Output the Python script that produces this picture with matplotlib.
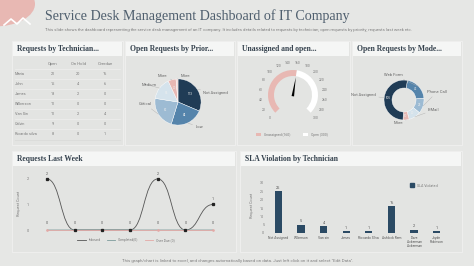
import numpy as np
import matplotlib
matplotlib.use("Agg")
import matplotlib.pyplot as plt
from matplotlib.patches import Rectangle, Circle, Wedge, Polygon, PathPatch, Patch
from matplotlib.path import Path
from matplotlib.lines import Line2D

plt.rcParams['font.family'] = ['Roboto', 'DejaVu Sans']

# ---- data ----
tech_names = ["Maria", "John", "James", "Wilkerson", "Van Sin", "Calvin", "Ricardo silva"]
tech_open = [21, 15, 13, 11, 11, 9, 8]
tech_hold = [20, 4, 2, 0, 2, 0, 0]
tech_overdue = [16, 6, 0, 0, 4, 0, 1]

prio_labels = ["Not Assigned", "Low", "Critical", "Medium", "More", "More"]
prio_values = [113, 84, 82, 56, 20, 5]

gauge_unassigned = 160
gauge_max = 300

mode_labels = ["Web Form", "Phone Call", "E-Mail", "More", "Not Assigned"]
mode_values = [42, 25, 20, 10, 105]

week_inbound = [2, 0, 0, 0, 2, 0, 1]
week_completed = [0, 0, 0, 0, 0, 0, 0]
week_overdue = [0, 0, 0, 0, 0, 0, 0]

sla_names = ["Not Assigned", "Wilkerson", "Van sin", "James", "Riccardo Silva",
             "Ashlock Ram", "Dave\nAckerman\nAckerman", "Joyde\nRobinson"]
sla_values = [25, 5, 4, 1, 1, 16, 2, 1]

# ---- colours ----
BG = "#e6e7e5"
PANEL = "#e3e4e2"
HEAD = "#f5f6f5"
NAVY = "#203c56"
MID = "#5584ab"
LIGHT = "#9dbbd3"
PALE = "#d5e3ec"
PINK = "#e8b8b3"
TXT = "#7a7a7a"
HTXT = "#34414d"

W, H = 474, 266
fig = plt.figure(figsize=(W / 100, H / 100), dpi=100, facecolor=BG)


def rect(x0, y0, x1, y1):
    return [x0 / W, 1 - y1 / H, (x1 - x0) / W, (y1 - y0) / H]


def fx(x):
    return x / W


def fy(y):
    return 1 - y / H


# decoration top-left
fig.patches.append(Circle((fx(-5), fy(4)), 40 / W, transform=fig.transFigure,
                          facecolor=PINK, edgecolor="none", zorder=-5))
zig_x = [4, 11, 17, 23, 30]
zig_y = [25, 19, 24, 18, 24]
fig.lines.append(Line2D([fx(v) for v in zig_x], [fy(v) for v in zig_y],
                        transform=fig.transFigure, color="white", lw=1.2, zorder=-4))

fig.text(fx(45), fy(16), "Service Desk Management Dashboard of IT Company",
         family="Liberation Serif", fontsize=10.1, color="#4f5f6e", va="center")
fig.text(fx(45), fy(30),
         "This slide shows the dashboard representing the service desk management of an IT company. "
         "It includes details related to requests by technician, open requests by priority, requests last week etc.",
         fontsize=3.1, color="#808080", va="center")
fig.text(fx(238), fy(261),
         "This graph/chart is linked to excel, and changes automatically based on data. "
         "Just left click on it and select \"Edit Data\".",
         fontsize=3.2, color="#808080", ha="center", va="center")


def panel(x0, y0, x1, y1, title):
    fig.patches.append(Rectangle((fx(x0), fy(y1)), (x1 - x0) / W, (y1 - y0) / H,
                                 transform=fig.transFigure, facecolor=PANEL,
                                 edgecolor="#f0f0f0", lw=0.6, zorder=-3))
    fig.patches.append(Rectangle((fx(x0 + 1), fy(y0 + 15)), (x1 - x0 - 2) / W, 14 / H,
                                 transform=fig.transFigure, facecolor=HEAD,
                                 edgecolor="none", zorder=-2))
    fig.text(fx(x0 + 5), fy(y0 + 8), title, family="Liberation Serif",
             fontweight="bold", fontsize=5.5, color=HTXT, va="center")


panel(12, 41, 123, 145, "Requests by Technician...")
panel(125, 41, 235, 145, "Open Requests by Prior...")
panel(237, 41, 350, 145, "Unassigned and open...")
panel(352, 41, 462, 145, "Open Requests by Mode...")
panel(12, 151, 236, 252, "Requests Last Week")
panel(240, 151, 462, 252, "SLA Violation by Technician")

# ---- table ----
ax = fig.add_axes(rect(12, 58, 123, 141))
ax.set_xlim(12, 123)
ax.set_ylim(7.7, -0.6)
ax.axis("off")
cols_x = [53, 78, 105]
for cx, head in zip(cols_x, ["Open", "On Hold", "Overdue"]):
    ax.text(cx, 0, head, fontsize=3, color=TXT, ha="center", va="center")
for i, name in enumerate(tech_names):
    r = i + 1
    ax.axhline(r - 0.5, xmin=0.03, xmax=0.97, color="#f2f2f2", lw=0.4)
    ax.text(15, r, name, fontsize=2.8, color=TXT, va="center")
    for cx, v in zip(cols_x, [tech_open[i], tech_hold[i], tech_overdue[i]]):
        ax.text(cx, r, str(v), fontsize=2.8, color=TXT, ha="center", va="center")
ax.axhline(7.65, xmin=0.03, xmax=0.97, color="#a8a8a8", lw=0.9)

# ---- priority pie ----
ax = fig.add_axes(rect(178 - 30, 102 - 30, 178 + 30, 102 + 30))
pie_colors = [NAVY, MID, LIGHT, PALE, PINK, "#f1d6d3"]
wedges, _, autos = ax.pie(prio_values, colors=pie_colors, startangle=90, counterclock=False,
                          radius=1, autopct=lambda p: "%d" % round(p * sum(prio_values) / 100),
                          pctdistance=0.62, wedgeprops=dict(edgecolor="white", linewidth=0.3),
                          textprops=dict(fontsize=2.2, color="#f0f0f0"))
autos[-1].set_text("")
ax.set_xlim(-1.3, 1.3)
ax.set_ylim(-1.3, 1.3)
ax.set_aspect("equal")
prio_pos = [(1.1, 0.39, "left"), (0.75, -1.1, "left"), (-1.15, -0.09, "right"),
            (-0.9, 0.72, "right"), (-0.45, 1.12, "right"), (0.1, 1.14, "left")]
for w, lab, (tx, ty, ha) in zip(wedges, prio_labels, prio_pos):
    a = np.deg2rad((w.theta1 + w.theta2) / 2)
    ax.annotate(lab, xy=(np.cos(a), np.sin(a)), xytext=(tx, ty), ha=ha, va="center",
                fontsize=3, color="#666666", annotation_clip=False,
                arrowprops=dict(arrowstyle="-", color="#b0b0b0", lw=0.3,
                                shrinkA=0, shrinkB=0))

# ---- gauge ----
ax = fig.add_axes(rect(293 - 40, 95 - 40, 293 + 40, 95 + 40))
ax.set_xlim(-1.6, 1.6)
ax.set_ylim(-1.6, 1.6)
ax.set_aspect("equal")
ax.axis("off")
span = 270.0
ang_val = 225 - gauge_unassigned / gauge_max * span
ax.add_patch(Wedge((0, 0), 1, ang_val, 225, width=0.24, facecolor=PINK, edgecolor="none"))
ax.add_patch(Wedge((0, 0), 1, -45, ang_val, width=0.24, facecolor="white", edgecolor="none"))
for v in range(0, gauge_max + 1, 20):
    a = np.deg2rad(225 - v / gauge_max * span)
    ax.text(1.3 * np.cos(a), 1.3 * np.sin(a), str(v), fontsize=2.4, color=TXT,
            ha="center", va="center")
a = np.deg2rad(ang_val)
p = np.array([np.cos(a + np.pi / 2), np.sin(a + np.pi / 2)]) * 0.05
tip = np.array([np.cos(a), np.sin(a)]) * 0.72
base = -np.array([np.cos(a), np.sin(a)]) * 0.05
ax.add_patch(Polygon([base + p, tip, base - p], closed=True, facecolor="black"))
fig.legend([Patch(facecolor=PINK), Patch(facecolor="white")],
           ["Unassigned (%d)" % gauge_unassigned, "Open (%d)" % gauge_max],
           loc="center", bbox_to_anchor=(fx(292), fy(135)), ncol=2, frameon=False,
           fontsize=2.4, handlelength=1.4, handleheight=1.0, columnspacing=4,
           labelcolor=TXT)

# ---- mode donut ----
ax = fig.add_axes(rect(404 - 30, 100 - 30, 404 + 30, 100 + 30))
mode_colors = [MID, LIGHT, PALE, PINK, NAVY]
wedges, _, autos = ax.pie(mode_values, colors=mode_colors, startangle=80, counterclock=False,
                          radius=1, autopct=lambda p: "%d" % round(p * sum(mode_values) / 100),
                          pctdistance=0.8, wedgeprops=dict(width=0.4, edgecolor="white", linewidth=0.3),
                          textprops=dict(fontsize=2.2, color="#f0f0f0"))
ax.set_xlim(-1.5, 1.5)
ax.set_ylim(-1.5, 1.5)
ax.set_aspect("equal")
mode_pos = [(-0.55, 1.27, "center"), (1.15, 0.4, "left"), (1.2, -0.5, "left"),
            (-0.3, -1.15, "center"), (-1.4, 0.25, "right")]
for w, lab, (tx, ty, ha) in zip(wedges, mode_labels, mode_pos):
    a = np.deg2rad((w.theta1 + w.theta2) / 2)
    ax.annotate(lab, xy=(np.cos(a), np.sin(a)), xytext=(tx, ty), ha=ha, va="center",
                fontsize=3, color="#666666", annotation_clip=False,
                arrowprops=dict(arrowstyle="-", color="#b0b0b0", lw=0.3,
                                shrinkA=0, shrinkB=0))

# ---- requests last week ----
ax = fig.add_axes(rect(33, 170, 227, 236))
ax.set_facecolor("none")
xs = np.arange(len(week_inbound))


def smooth(xv, yv):
    verts = [(xv[0], yv[0])]
    codes = [Path.MOVETO]
    for i in range(len(xv) - 1):
        d = (xv[i + 1] - xv[i]) / 2
        verts += [(xv[i] + d, yv[i]), (xv[i + 1] - d, yv[i + 1]), (xv[i + 1], yv[i + 1])]
        codes += [Path.CURVE4] * 3
    return Path(verts, codes)


ax.add_patch(PathPatch(smooth(xs, week_inbound), fill=False, edgecolor="#555555", lw=0.6))
ax.add_patch(PathPatch(smooth(xs, week_completed), fill=False, edgecolor="#7e9c9c", lw=0.6))
ax.plot(xs, week_overdue, color="#e3a9a6", lw=0.6, marker="o", ms=0.9)
ax.plot(xs, week_inbound, ls="none", marker="s", ms=1.4, color="#222222")
for x, v, c in zip(xs, week_inbound, week_completed):
    if v > 0:
        ax.annotate(str(v), (x, v), xytext=(0, 3), textcoords="offset points",
                    ha="center", fontsize=2.6, color="#555555")
    ax.annotate(str(c), (x, c), xytext=(0, 4.5), textcoords="offset points",
                ha="center", fontsize=2.6, color="#555555")
ax.set_xlim(-0.5, 6.5)
ax.set_ylim(-0.235, 2.35)
ax.set_xticks([])
ax.set_yticks([0, 1, 2])
ax.tick_params(axis="y", length=0, labelsize=2.8, labelcolor=TXT, pad=3)
for s in ax.spines.values():
    s.set_visible(False)
ax.set_ylabel("Request Count", fontsize=2.8, color=TXT, labelpad=4)
ax.legend([Line2D([], [], color="#555555", lw=0.6), Line2D([], [], color="#7e9c9c", lw=0.6),
           Line2D([], [], color="#e3a9a6", lw=0.6)],
          ["Inbound", "Completed(0)", "Over Due (0)"], loc="center",
          bbox_to_anchor=(0.48, -0.06), ncol=3, frameon=False, fontsize=2.4,
          handlelength=2.5, columnspacing=2, labelcolor=TXT)

# ---- SLA violation ----
ax = fig.add_axes(rect(267, 178, 448, 233))
ax.set_facecolor("none")
xb = np.arange(len(sla_values))
bars = ax.bar(xb, sla_values, width=0.32, color="#2b4a64", label="SLA Violated")
for x, v in zip(xb, sla_values):
    ax.text(x, v + 1, str(v), ha="center", va="bottom", fontsize=2.8, color="#555555")
ax.set_xlim(-0.5, 7.5)
ax.set_ylim(0, 33)
ax.set_yticks(range(0, 31, 5))
ax.set_xticks(xb)
ax.set_xticklabels(sla_names, fontsize=2.4, color="#555555", linespacing=1.1)
ax.tick_params(length=0, pad=2)
ax.tick_params(axis="y", labelsize=2.6, labelcolor=TXT)
for s in ax.spines.values():
    s.set_visible(False)
ax.set_ylabel("Request Count", fontsize=2.8, color=TXT, labelpad=4)
ax.legend([Line2D([], [], ls="none", marker="s", ms=2.5, color="#2b4a64")], ["SLA Violated"],
          loc="center", bbox_to_anchor=(0.86, 0.86), frameon=False, fontsize=2.6,
          labelcolor=TXT, handletextpad=0.3)

fig.savefig("out.png", dpi=100, facecolor=BG)
